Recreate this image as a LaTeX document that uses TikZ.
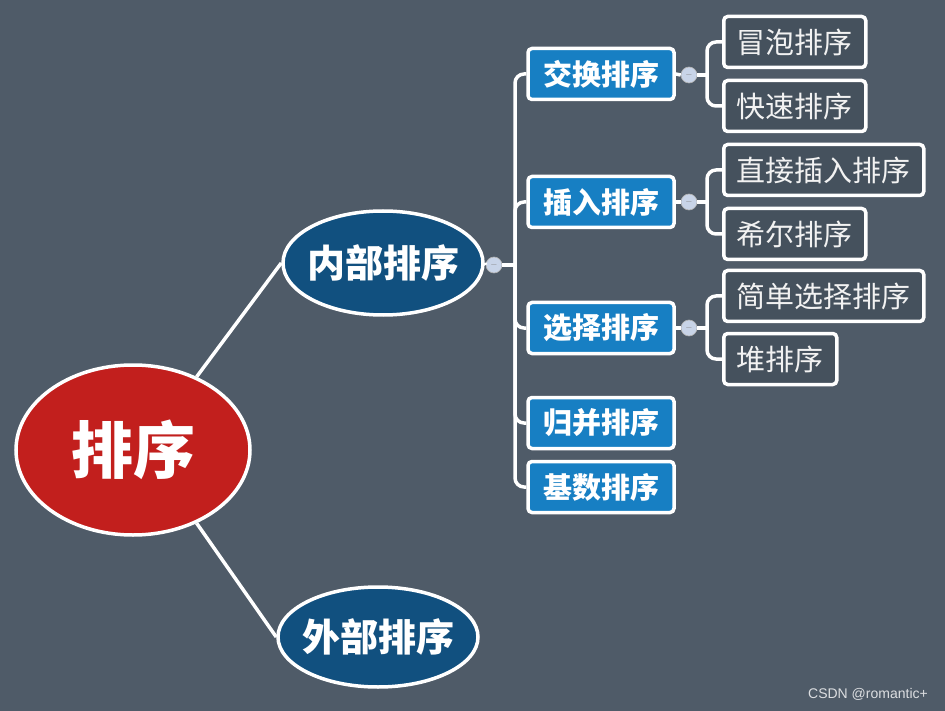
\documentclass[tikz,border=0pt]{standalone}
\usepackage{fontspec}
\usepackage{tikz}
\usetikzlibrary{shapes.geometric}
\newfontfamily\cjk{Noto Sans CJK SC}
\setmainfont{Liberation Sans}
\definecolor{bgc}{HTML}{4F5B68}
\definecolor{rootred}{HTML}{C21F1D}
\definecolor{darkblue}{HTML}{11507F}
\definecolor{midblue}{HTML}{177FC3}
\definecolor{leafc}{HTML}{45515D}
\definecolor{knob}{HTML}{C8D4E8}
\tikzset{
    every node/.style={text=white, line width=3.5pt, draw=white, inner sep=0pt},
    every label/.style={draw=none},
    big/.style={ellipse, fill=darkblue, minimum width=200pt, minimum height=104pt},
    bigtext/.style={font=\cjk\bfseries\fontsize{38}{40}\selectfont},
    sortbox/.style={rounded corners=4pt, fill=midblue, minimum width=146pt,
        minimum height=51pt, font=\cjk\bfseries\fontsize{29}{31}\selectfont},
    leaf/.style={rounded corners=4pt, fill=leafc, minimum height=51pt,
        inner xsep=13pt, text=white!90!gray, font=\cjk\fontsize{29}{31}\selectfont},
    knob/.style={circle, fill=knob, draw=gray!60, line width=0.6pt, minimum size=16pt,
        text=gray, font=\fontsize{9}{9}\selectfont},
    wire/.style={draw=white, line width=3.5pt, rounded corners=9pt}
}

\begin{document}
\begin{tikzpicture}[x=1pt, y=-1pt]
	\fill[bgc] (0,0) rectangle (945,711);
	\useasboundingbox (0,0) rectangle (945,711);

	\node (0) [ellipse, fill=rootred, minimum width=234pt, minimum height=170pt,
		label={[font=\cjk\bfseries\fontsize{62}{64}\selectfont]center:排序}] at (133, 450) {};
	\node (1) [big, label={[bigtext]center:内部排序}] at (383, 263) {};
	\node (2) [big, minimum height=100pt, label={[bigtext]center:外部排序}] at (378, 637) {};

	\node (k1) [knob] at (494, 265) {$-$};
	\coordinate (j1) at (515, 265);

	\node (11) [sortbox] at (601, 74) {交换排序};
	\node (12) [sortbox] at (601, 202) {插入排序};
	\node (13) [sortbox] at (601, 328) {选择排序};
	\node (14) [sortbox] at (601, 423) {归并排序};
	\node (15) [sortbox] at (601, 487) {基数排序};

	\node (k11) [knob] at (689, 75) {$-$};
	\node (k12) [knob] at (689, 202) {$-$};
	\node (k13) [knob] at (689, 328) {$-$};
	\coordinate (j11) at (707, 75);
	\coordinate (j12) at (707, 202);
	\coordinate (j13) at (707, 328);

	\node (111) [leaf, anchor=west] at (722, 42) {冒泡排序};
	\node (112) [leaf, anchor=west] at (722, 106) {快速排序};
	\node (121) [leaf, anchor=west] at (722, 170) {直接插入排序};
	\node (122) [leaf, anchor=west] at (722, 234) {希尔排序};
	\node (131) [leaf, anchor=west] at (722, 296) {简单选择排序};
	\node (132) [leaf, anchor=west] at (722, 359) {堆排序};

	\draw[wire] (0.49) edge (1.west);
	\draw[wire] (0.-49) edge (2.west);

	\draw[wire] (1.east) -- (k1.west);
	\draw[wire] (k1.east) -- (j1);
	\draw[wire] (j1) |- (11.west); \draw[wire] (j1) |- (12.west);
	\draw[wire] (j1) |- (13.west); \draw[wire] (j1) |- (14.west);
	\draw[wire] (j1) |- (15.west);

	\draw[wire] (11.east) -- (k11.west); \draw[wire] (k11.east) -- (j11);
	\draw[wire] (12.east) -- (k12.west); \draw[wire] (k12.east) -- (j12);
	\draw[wire] (13.east) -- (k13.west); \draw[wire] (k13.east) -- (j13);
	\draw[wire] (j11) |- (111.west); \draw[wire] (j11) |- (112.west);
	\draw[wire] (j12) |- (121.west); \draw[wire] (j12) |- (122.west);
	\draw[wire] (j13) |- (131.west); \draw[wire] (j13) |- (132.west);

	\node (wm) [draw=none, text=white!80!bgc, font=\fontsize{14}{14}\selectfont]
		at (868, 694) {CSDN @romantic+};
\end{tikzpicture}
\end{document}
